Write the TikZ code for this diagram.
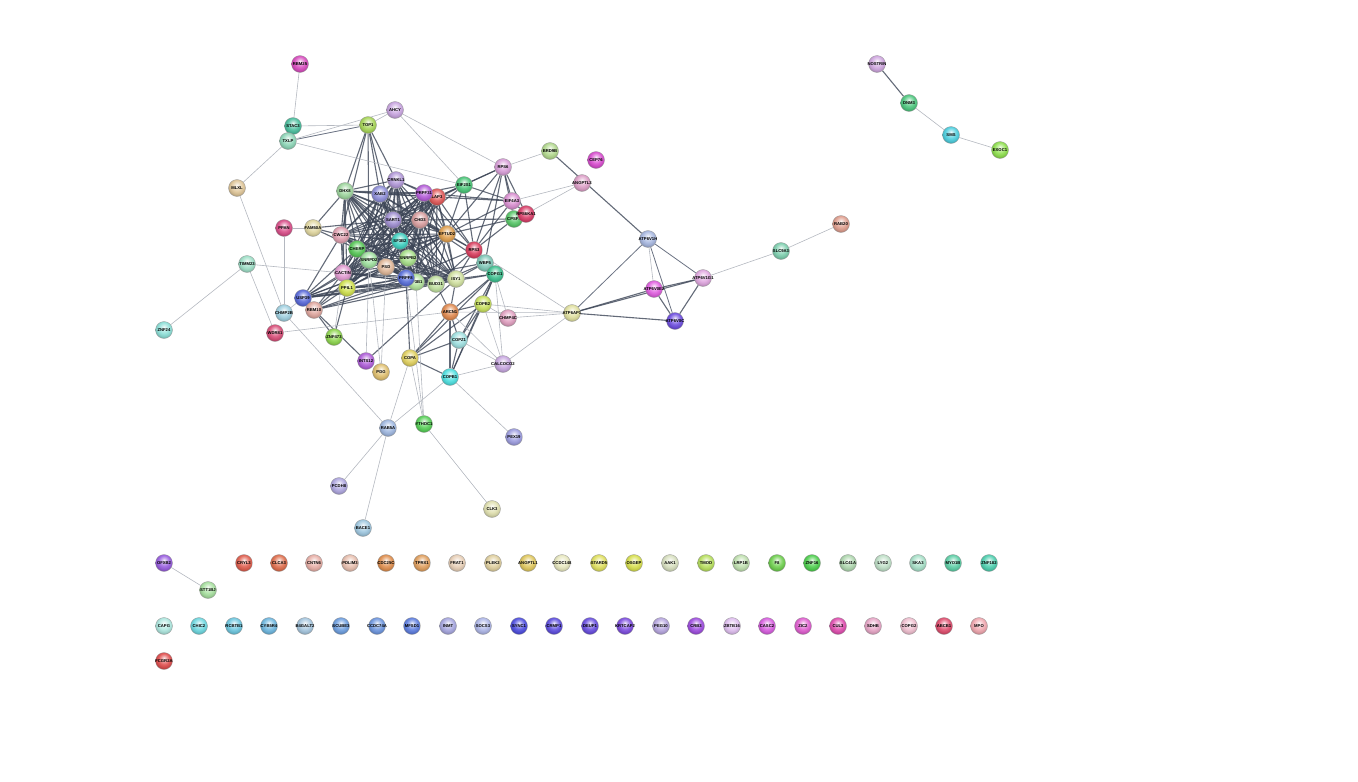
\documentclass[tikz,border=0pt]{standalone}
\usepackage{fontspec}
\setmainfont{Liberation Sans}
\usetikzlibrary{backgrounds}
\definecolor{darkedge}{HTML}{3C4556}
\definecolor{midedge}{HTML}{6A7282}
\definecolor{lightedge}{HTML}{B4B8C0}
\colorlet{gball}{red}
\pgfdeclareradialshading[gball]{strball}{\pgfqpoint{0bp}{9bp}}{%
  color(0bp)=(gball!10!white); color(6bp)=(gball!45!white); color(16bp)=(gball!90!white);
  color(23bp)=(gball!92!black); color(27bp)=(gball!80!black); color(50bp)=(gball!80!black)}
\tikzset{
  gn/.style={circle, minimum size=17pt, inner sep=0pt, draw=black!40, line width=0.3pt,
    shading=strball, font=\fontsize{4.2}{4.2}\selectfont\bfseries, text=black},
  dk/.style={draw=darkedge, line width=1.1pt, opacity=0.8},
  md/.style={draw=midedge, line width=0.8pt},
  lt/.style={draw=lightedge, line width=0.6pt},
}
\newcommand\gnode[5]{\definecolor{gtmp}{HTML}{#5}\colorlet{gball}{gtmp}%
  \node[gn] (#1) at (#2,#3) {\makebox[0pt][c]{#4}};}
\begin{document}
\begin{tikzpicture}[x=1pt,y=-1pt]
\useasboundingbox (0,0) rectangle (1358,782);
% ---------- main cluster nodes ----------
\gnode{RBM25}{300}{64}{RBM25}{D94FC0}
\gnode{STAC3}{293}{126}{STAC3}{4DBF9F}
\gnode{TXLP}{288}{141}{TXLP}{8FD6B8}
\gnode{TOP1}{368}{125}{TOP1}{A8D65A}
\gnode{AHCY}{395}{110}{AHCY}{C9A6E0}
\gnode{MLXL}{237}{188}{MLXL}{E0C79A}
\gnode{DHX8}{345}{191}{DHX8}{9FD69F}
\gnode{XAB2}{380}{194}{XAB2}{8F8FD9}
\gnode{CRNKL1}{396}{180}{CRNKL1}{B39AD9}
\gnode{LAP3}{437}{197}{LAP3}{E05A5A}
\gnode{PRPF31}{424}{193}{PRPF31}{B55ED9}
\gnode{EIFtwoS1}{464}{185}{EIF2S1}{4DC77A}
\gnode{RPS6}{503}{167}{RPS6}{D9A0D9}
\gnode{BRD9B}{550}{151}{BRD9B}{B3D98F}
\gnode{CEP76}{596}{160}{CEP76}{D94FD0}
\gnode{ANGPTL3}{582}{183}{ANGPTL3}{DDA0C8}
\gnode{EIF4A3}{512}{201}{EIF4A3}{D98FD0}
\gnode{CPSF1}{514}{219}{CPSF1}{59C76A}
\gnode{RPS6KA1}{526}{214}{RPS6KA1}{D9406A}
\gnode{SART1}{393}{220}{SART1}{9F8FD0}
\gnode{CHD3}{420}{220}{CHD3}{D99FA0}
\gnode{EFTUD2}{447}{234}{EFTUD2}{E0A050}
\gnode{PPAN}{284}{228}{PPAN}{D9508A}
\gnode{FAM50A}{313}{228}{FAM50A}{E0D6A0}
\gnode{CWC22}{341}{235}{CWC22}{E0A0B0}
\gnode{CHERP}{357}{249}{CHERP}{59C759}
\gnode{SF3B2}{400}{241}{SF3B2}{40D0C0}
\gnode{SNRPD2}{369}{260}{SNRPD2}{A0E0A0}
\gnode{SNRPB2}{408}{258}{SNRPB2}{A8E08A}
\gnode{RPS3}{474}{250}{RPS3}{D94060}
\gnode{WBP5}{485}{263}{WBP5}{80C8B8}
\gnode{COPG1}{495}{274}{COPG1}{40C090}
\gnode{PSD}{386}{267}{PSD}{E0B89A}
\gnode{CACTIN}{343}{273}{CACTIN}{E09AD0}
\gnode{SF3B1}{416}{282}{SF3B1}{B0E09A}
\gnode{PRPF8}{406}{278}{PRPF8}{5A70D9}
\gnode{BUD31}{436}{284}{BUD31}{C0E0A0}
\gnode{ISY1}{456}{279}{ISY1}{D0E0A0}
\gnode{PPIL1}{347}{288}{PPIL1}{D0E050}
\gnode{USP39}{303}{298}{USP39}{5A6AD9}
\gnode{RBM10}{314}{310}{RBM10}{E0A8A0}
\gnode{CHMP2B}{284}{313}{CHMP2B}{A0D0E0}
\gnode{WDR81}{275}{333}{WDR81}{D9507A}
\gnode{TIMM23}{247}{264}{TIMM23}{A0E0C8}
\gnode{ZNF24}{164}{330}{ZNF24}{8FE0D8}
\gnode{ZNF473}{334}{337}{ZNF473}{8FD650}
\gnode{INTS12}{366}{361}{INTS12}{B060D9}
\gnode{PDG}{381}{372}{PDG}{E0C070}
\gnode{ARCN1}{450}{312}{ARCN1}{E08A50}
\gnode{COPB2}{483}{304}{COPB2}{C8E060}
\gnode{CHMP4C}{508}{318}{CHMP4C}{E0A0C0}
\gnode{COPZ1}{459}{340}{COPZ1}{A0E0E0}
\gnode{COPA}{410}{358}{COPA}{E0D060}
\gnode{COPB1}{450}{377}{COPB1}{50E0E0}
\gnode{CALCOCO2}{503}{364}{CALCOCO2}{C8A8E0}
\gnode{RAB5A}{388}{428}{RAB5A}{A0B8E0}
\gnode{YTHDC1}{424}{424}{YTHDC1}{59D059}
\gnode{PEX19}{514}{437}{PEX19}{9F9FE0}
\gnode{PCDH8}{339}{486}{PCDH8}{B0A8E0}
\gnode{BACE1}{363}{528}{BACE1}{A0C8E0}
\gnode{CLK3}{492}{509}{CLK3}{E0E0B0}
% ---------- V-ATPase cluster ----------
\gnode{ATP6AP1}{572}{313}{ATP6AP1}{E0E0A0}
\gnode{ATP6V1H}{648}{239}{ATP6V1H}{A8B8E0}
\gnode{ATP6V0E2}{654}{289}{ATP6V0E2}{E060E0}
\gnode{ATP6V1G1}{703}{278}{ATP6V1G1}{E0A8E0}
\gnode{ATP6V0C}{675}{321}{ATP6V0C}{7050E0}
\gnode{SLC9A3}{781}{251}{SLC9A3}{80D0B0}
\gnode{RAB20}{841}{224}{RAB20}{E0A090}
% ---------- upper right chain ----------
\gnode{NOSTRIN}{877}{64}{NOSTRIN}{D0A8E0}
\gnode{DNM3}{909}{103}{DNM3}{50C880}
\gnode{SMS}{951}{135}{SMS}{50D0E0}
\gnode{EXOC1}{1000}{150}{EXOC1}{90E050}
% ---------- bottom rows ----------
\gnode{OFXB2}{164}{563}{OFXB2}{9A60E0}
\gnode{STT1BJ}{208}{590}{STT1BJ}{A8E0A0}
\foreach \x/\l/\c [count=\i] in {244/CRYL3/E06050,279/CLCA3/E0704F,314/CNTN6/E8B0A8,350/PDLIM3/E8C0B0,
  386/CDC25C/E09050,422/TPRX1/E0A060,457/FRAT1/E8D0B8,493/PLEK2/E0D0A0,528/ANGPTL1/E0C860,
  562/CCDC148/E8E8C0,599/STARD5/E0E060,634/OSGEP/D8E050,670/AAK1/D8E0C0,706/TMOD/B8E060,
  741/LRP1B/C0E0B0,777/F8/70D050,812/ZNF16/50D050,848/SLC41A/B0D8B0,883/LYG2/C0E0C8,
  918/SKA3/A8E0C8,953/MYO1B/60D0A8,989/ZNF182/50D0B0}
  {\definecolor{gtmp}{HTML}{\c}\colorlet{gball}{gtmp}\node[gn] (ra\i) at (\x,563) {\makebox[0pt][c]{\l}};}
\foreach \x/\l/\c [count=\i] in {164/CAPG/B0E8E0,199/CHIC2/70D8E0,234/RCBTB1/70C8E0,269/CYB5R4/70B8E0,
  305/B4GALT2/A8C8E0,341/SCUBE3/70A0E0,377/CCDC74A/7098E0,412/MFSD1/6080E0,448/INMT/A8A8E0,
  483/SOCS3/B0B8E8,519/SYNC1/5050E0,554/CRMP1/6050E0,590/DEUP1/6A50E0,625/KRTCAP2/8050E0,
  661/PEG10/B8A8E0,696/CRB3/A050E0,732/ZBTB16/E0C0F0,767/CASC2/D860E0,803/ZIC2/E060D0,
  838/CUL3/E050B0,873/SDHB/E8A8C8,909/COPG2/F0C0D0,944/ABCB1/E05070,979/MPO/F0A8B0}
  {\definecolor{gtmp}{HTML}{\c}\colorlet{gball}{gtmp}\node[gn] (rb\i) at (\x,626) {\makebox[0pt][c]{\l}};}
\gnode{FCGR2A}{164}{661}{FCGR2A}{E05050}
% ---------- edges ----------
\begin{pgfonlayer}{background}
\def\corelist{DHX8,XAB2,CRNKL1,PRPF31,LAP3,SART1,CHD3,EFTUD2,CWC22,CHERP,SF3B2,SNRPD2,SNRPB2,PSD,CACTIN,PRPF8,SF3B1,BUD31,ISY1,PPIL1}
\foreach \a [count=\i] in \corelist {
  \foreach \b [count=\j] in \corelist {
    \ifnum\j>\i \draw[dk] (\a) -- (\b); \fi
  }
}
\foreach \a/\b in {USP39/CACTIN,USP39/PPIL1,USP39/SNRPD2,USP39/CHERP,USP39/PRPF8,USP39/SF3B1,USP39/BUD31,
  USP39/SNRPB2,USP39/CWC22,USP39/PSD,USP39/ISY1,
  RBM10/USP39,RBM10/PPIL1,RBM10/CACTIN,RBM10/SNRPD2,RBM10/PRPF8,RBM10/BUD31,RBM10/SF3B1,RBM10/ZNF473,RBM10/INTS12,
  TOP1/DHX8,TOP1/XAB2,TOP1/CRNKL1,TOP1/SART1,TOP1/CWC22,TOP1/SNRPD2,
  RPS3/EFTUD2,RPS3/PRPF31,RPS3/LAP3,RPS3/CHD3,RPS3/RPS6,RPS3/EIF4A3,RPS3/EIFtwoS1,RPS3/CPSF1,RPS3/WBP5,
  RPS3/PRPF8,RPS3/ISY1,RPS3/BUD31,
  WBP5/PRPF8,WBP5/ISY1,WBP5/BUD31,WBP5/CHD3,WBP5/RPS6,WBP5/COPG1,
  COPG1/COPB2,COPG1/ARCN1,COPG1/COPZ1,COPG1/COPA,COPG1/COPB1,COPG1/BUD31,COPG1/ISY1,
  EIFtwoS1/RPS6,EIFtwoS1/EIF4A3,EIFtwoS1/PRPF31,EIFtwoS1/LAP3,EIFtwoS1/CHD3,EIFtwoS1/EFTUD2,EIFtwoS1/SART1,
  RPS6/EIF4A3,RPS6/RPS6KA1,RPS6/CPSF1,RPS6/LAP3,RPS6/EFTUD2,
  EIF4A3/RPS6KA1,EIF4A3/CPSF1,EIF4A3/LAP3,EIF4A3/EFTUD2,EIF4A3/PRPF31,
  CPSF1/RPS6KA1,CPSF1/EFTUD2,CPSF1/CHD3,
  ARCN1/COPB2,ARCN1/COPZ1,ARCN1/COPA,ARCN1/COPB1,ARCN1/ISY1,ARCN1/BUD31,
  COPB2/COPZ1,COPB2/COPA,COPB2/COPB1,COPZ1/COPA,COPZ1/COPB1,COPA/COPB1,COPA/PRPF8,
  INTS12/ISY1,ZNF473/PPIL1,
  FAM50A/CWC22,FAM50A/CHERP,FAM50A/SART1,FAM50A/DHX8,
  BRD9B/ATP6V1H,ATP6AP1/ATP6V0E2,ATP6AP1/ATP6V1G1,ATP6AP1/ATP6V0C,
  ATP6V0E2/ATP6V1G1,ATP6V0E2/ATP6V0C,ATP6V1G1/ATP6V0C,NOSTRIN/DNM3}
  \draw[dk] (\a) -- (\b);
\foreach \a/\b in {TXLP/TOP1,ATP6AP1/ATP6V1H,ATP6V1H/ATP6V0C,ATP6V1H/ATP6V1G1}
  \draw[md] (\a) -- (\b);
\foreach \a/\b in {RBM25/STAC3,STAC3/TOP1,TXLP/AHCY,TXLP/MLXL,TXLP/EIFtwoS1,MLXL/CHMP2B,PPAN/CHMP2B,
  PPAN/FAM50A,TIMM23/ZNF24,TIMM23/CACTIN,TIMM23/WDR81,CHMP2B/USP39,CHMP2B/RAB5A,WDR81/ARCN1,
  AHCY/RPS6,AHCY/EIFtwoS1,AHCY/TOP1,BRD9B/RPS6,ANGPTL3/EIF4A3,ANGPTL3/RPS6KA1,
  ATP6AP1/COPB2,ATP6AP1/ARCN1,ATP6AP1/CHMP4C,ATP6AP1/CALCOCO2,ATP6AP1/RPS3,ATP6V1H/ATP6V0E2,
  ATP6V1G1/SLC9A3,SLC9A3/RAB20,CHMP4C/COPB2,CHMP4C/COPG1,
  CALCOCO2/COPB2,CALCOCO2/COPZ1,CALCOCO2/ARCN1,CALCOCO2/COPG1,CALCOCO2/COPB1,
  PDG/PSD,PDG/SNRPD2,INTS12/SNRPD2,ZNF473/CACTIN,
  RAB5A/PCDH8,RAB5A/BACE1,RAB5A/COPA,RAB5A/COPB1,YTHDC1/CLK3,YTHDC1/COPA,YTHDC1/SF3B1,YTHDC1/PRPF8,
  COPB1/PEX19,DNM3/SMS,SMS/EXOC1,OFXB2/STT1BJ}
  \draw[lt] (\a) -- (\b);
\end{pgfonlayer}
\end{tikzpicture}
\end{document}
